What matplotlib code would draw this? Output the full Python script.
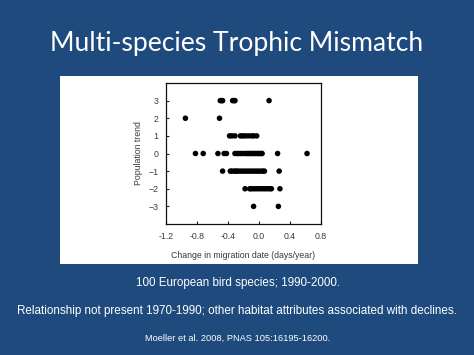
import matplotlib
matplotlib.use("Agg")
import matplotlib.pyplot as plt
from matplotlib.patches import Rectangle

# Data (change in migration date, population trend)
row_p3 = [-0.50, -0.48, -0.47, -0.34, -0.32, -0.31, 0.13]
row_p2 = [-0.95, -0.51]
row_p1 = [-0.38, -0.35, -0.31, -0.24, -0.21, -0.18, -0.14, -0.10, -0.07, -0.03]
row_0 = [-0.82, -0.72, -0.53, -0.45, -0.42, -0.31, -0.28, -0.26, -0.23, -0.20,
         -0.17, -0.15, -0.13, -0.11, -0.09, -0.07, -0.05, -0.03, -0.01, 0.01,
         0.03, 0.04, 0.24, 0.62]
row_m1 = [-0.47, -0.37, -0.35, -0.32, -0.30, -0.28, -0.25, -0.22, -0.19, -0.16,
          -0.13, -0.10, -0.07, -0.04, -0.01, 0.02, 0.05, 0.07, 0.26]
row_m2 = [-0.18, -0.12, -0.10, -0.07, -0.04, -0.01, 0.02, 0.05, 0.08, 0.11,
          0.14, 0.16, 0.27]
row_m3 = [-0.07, 0.25]
trend_levels = [3, 2, 1, 0, -1, -2, -3]
rows = [row_p3, row_p2, row_p1, row_0, row_m1, row_m2, row_m3]

x_ticks = [-1.2, -0.8, -0.4, 0.0, 0.4, 0.8]
x_ticklabels = ["-1.2", "-0.8", "-0.4", "0.0", "0.4", "0.8"]
y_ticks = [-3, -2, -1, 0, 1, 2, 3]

title = "Multi-species Trophic Mismatch"
caption1 = "100 European bird species; 1990-2000."
caption2 = "Relationship not present 1970-1990; other habitat attributes associated with declines."
caption3 = "Moeller et al. 2008, PNAS 105:16195-16200."

BG = "#1F4A7D"
W, H = 474, 355
fig = plt.figure(figsize=(W / 100, H / 100), dpi=100, facecolor=BG)

# white panel
panel = Rectangle((60 / W, 1 - 264 / H), 358 / W, 188 / H,
                  transform=fig.transFigure, facecolor="white",
                  edgecolor="none", zorder=-5)
fig.add_artist(panel)

ax = fig.add_axes([166 / W, 1 - 224 / H, 155 / W, 141 / H])
ax.set_zorder(2)
ax.set_facecolor("white")
xs, ys = [], []
for lvl, r in zip(trend_levels, rows):
    xs.extend(r)
    ys.extend([lvl] * len(r))
ax.scatter(xs, ys, s=16, color="black", edgecolors="none", zorder=3)

ax.set_xlim(-1.2, 0.8)
ax.set_ylim(-4, 4)
ax.set_xticks(x_ticks)
ax.set_xticklabels(x_ticklabels)
ax.set_yticks(y_ticks)
ax.tick_params(direction="in", length=2.5, width=0.8, labelsize=6.3,
               labelcolor="#3a3a3a", color="#222222", pad=5.5)
for s in ax.spines.values():
    s.set_linewidth(0.9)
    s.set_color("#111111")
for lbl in ax.get_xticklabels() + ax.get_yticklabels():
    lbl.set_family("Liberation Sans")
ax.set_xlabel("Change in migration date (days/year)", fontsize=6.3,
              family="Liberation Sans", color="#3a3a3a", labelpad=7.5)
ax.set_ylabel("Population trend", fontsize=6.3, family="Liberation Sans",
              color="#3a3a3a", labelpad=3.5)

fig.text(237 / W, 1 - 44 / H, title, ha="center", va="center", fontsize=19.1,
         color="white", family="Lato")
fig.text(238 / W, 1 - 283 / H, caption1, ha="center", va="center", fontsize=8.4,
         color="white", family="Liberation Sans")
fig.text(237 / W, 1 - 311 / H, caption2, ha="center", va="center", fontsize=8.4,
         color="white", family="Liberation Sans")
fig.text(238 / W, 1 - 338 / H, caption3, ha="center", va="center", fontsize=6.7,
         color="white", family="Liberation Sans")

fig.savefig("out.png", dpi=100, facecolor=BG)
